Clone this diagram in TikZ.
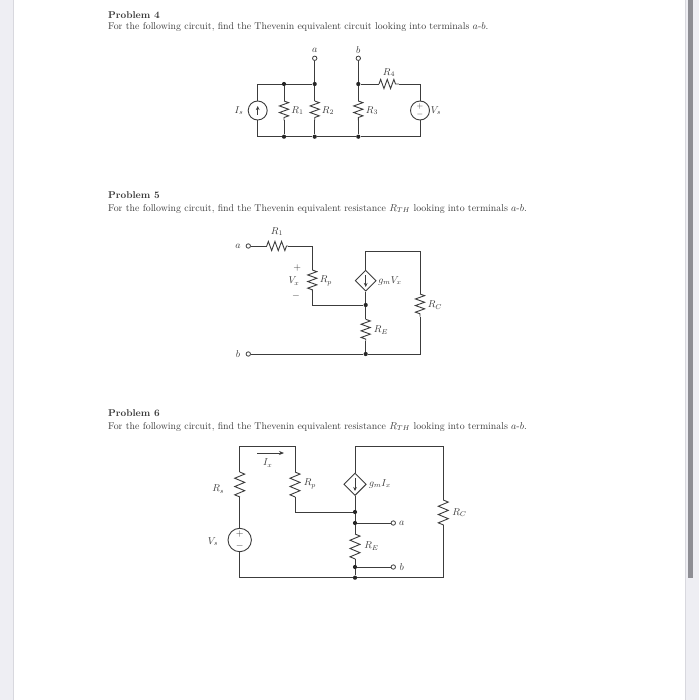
\documentclass[tikz,border=0pt]{standalone}
\usetikzlibrary{decorations.pathmorphing,arrows.meta,shapes.geometric}
\definecolor{ink}{HTML}{3C3C3C}
\definecolor{txt}{HTML}{3A3A3A}
\definecolor{track}{HTML}{EEEEF3}
\definecolor{edge}{HTML}{D8D8DE}
\definecolor{thumb}{HTML}{8E8E94}
\tikzset{
 x=1bp,y=-1bp,
 wire/.style={draw=ink,line width=.9pt},
 rv/.style={wire,decorate,decoration={zigzag,segment length=6.6bp,amplitude=4.6bp}},
 junc/.style={circle,fill=black!85,inner sep=0pt,minimum size=4.2bp},
 term/.style={circle,draw=ink,line width=.8pt,fill=white,inner sep=0pt,minimum size=4.4bp},
 src/.style={circle,draw=ink,line width=.9pt,inner sep=0pt},
 dep/.style={diamond,draw=ink,line width=.9pt,inner sep=0pt,minimum size=21bp,aspect=1},
 lab/.style={text=txt,font=\fontsize{9.9}{10}\selectfont,inner sep=0pt},
 head/.style={anchor=west,text=txt,font=\fontsize{9.9}{10}\selectfont\bfseries,inner sep=0pt},
 para/.style={anchor=west,text=txt,font=\fontsize{9.88}{10}\selectfont,inner sep=0pt},
}
\begin{document}
\begin{tikzpicture}
\useasboundingbox (0,0) rectangle (699,700);
% page frame
\fill[white] (0,0) rectangle (699,700);
\fill[track] (0,0) rectangle (13,700);
\fill[edge] (12.5,0) rectangle (14,700);
\fill[track] (685,0) rectangle (699,700);
\fill[edge] (685,0) rectangle (686,700);
\fill[thumb] (688,0) rectangle (693.4,578);
% ---------- Problem 4
\node[head] at (108,15.5) {Problem 4};
\node[para] at (108,27.2) {For the following circuit, find the Thevenin equivalent circuit looking into terminals $a$-$b$.};
\coordinate (tl) at (257.7,84); \coordinate (bl) at (257.7,136.7);
\coordinate (tr) at (420,84); \coordinate (br) at (420,136.7);
\node[src,minimum size=19bp] (Is) at (257.7,110.5) {};
\node[src,minimum size=19bp] (Vs) at (420,110.5) {};
\node[junc] (t1) at (284,84) {}; \node[junc] (b1) at (284,136.7) {};
\node[junc] (t2) at (314.7,84) {}; \node[junc] (b2) at (314.7,136.7) {};
\node[junc] (t3) at (358.3,84) {}; \node[junc] (b3) at (358.3,136.7) {};
\node[term] (a4) at (314.7,58.3) {}; \node[term] (b4) at (358.3,58.3) {};
\coordinate (r1t) at (284,101); \coordinate (r1b) at (284,120.5);
\coordinate (r2t) at (314.7,101); \coordinate (r2b) at (314.7,120.5);
\coordinate (r3t) at (358.3,101); \coordinate (r3b) at (358.3,120.5);
\coordinate (r4l) at (379,84); \coordinate (r4r) at (398.8,84);
\draw[wire] (Is) -- (tl) -- (t1) -- (t2) -- (a4);
\draw[wire] (Is) -- (bl) -- (b1) -- (b2) -- (b3) -- (br) -- (Vs);
\draw[wire] (Vs) -- (tr) -- (r4r); \draw[wire] (r4l) -- (t3) -- (b4);
\draw[rv] (r4l) -- (r4r);
\draw[wire] (t1) -- (r1t); \draw[rv] (r1t) -- (r1b); \draw[wire] (r1b) -- (b1);
\draw[wire] (t2) -- (r2t); \draw[rv] (r2t) -- (r2b); \draw[wire] (r2b) -- (b2);
\draw[wire] (t3) -- (r3t); \draw[rv] (r3t) -- (r3b); \draw[wire] (r3b) -- (b3);
\draw[-{Stealth[length=4bp,width=3.6bp]},wire] (257.7,115) -- (257.7,106);
\node[lab] at (420,106.2) {\fontsize{8}{8}\selectfont$+$};
\node[lab] at (420,114.8) {\fontsize{8}{8}\selectfont$-$};
\node[lab] at (239,110.5) {$I_s$};
\node[lab] at (297.5,110.5) {$R_1$};
\node[lab] at (328,110.5) {$R_2$};
\node[lab] at (372,110.5) {$R_3$};
\node[lab] at (389,72.5) {$R_4$};
\node[lab] at (436,110.5) {$V_s$};
\node[lab] at (314.7,50) {$a$};
\node[lab] at (358.3,50) {$b$};
% ---------- Problem 5
\node[head] at (108,195.5) {Problem 5};
\node[para] at (108,208.7) {For the following circuit, find the Thevenin equivalent resistance $R_{TH}$ looking into terminals $a$-$b$.};
\node[term] (a5) at (248.3,246) {}; \node[term] (b5) at (248.3,354) {};
\coordinate (c1) at (312.3,246); \coordinate (c2) at (312.3,305);
\coordinate (c3) at (365.7,251.3); \coordinate (c4) at (420,251.3); \coordinate (c5) at (420,354);
\node[junc] (n5) at (365.7,305) {}; \node[junc] (m5) at (365.7,354) {};
\node[dep] (d5) at (365.7,280.7) {};
\coordinate (r5l) at (266.7,246); \coordinate (r5r) at (288,246);
\coordinate (p5t) at (312.3,270); \coordinate (p5b) at (312.3,291.4);
\coordinate (e5t) at (365.7,319.3); \coordinate (e5b) at (365.7,340.7);
\coordinate (k5t) at (420,294); \coordinate (k5b) at (420,316.5);
\draw[wire] (a5) -- (r5l); \draw[rv] (r5l) -- (r5r); \draw[wire] (r5r) -- (c1) -- (p5t);
\draw[rv] (p5t) -- (p5b); \draw[wire] (p5b) -- (c2) -- (n5);
\draw[wire] (n5) -- (d5); \draw[wire] (d5) -- (c3) -- (c4) -- (k5t);
\draw[rv] (k5t) -- (k5b); \draw[wire] (k5b) -- (c5) -- (m5) -- (b5);
\draw[wire] (n5) -- (e5t); \draw[rv] (e5t) -- (e5b); \draw[wire] (e5b) -- (m5);
\draw[-{Stealth[length=4bp,width=3.6bp]},wire] (365.7,275) -- (365.7,287);
\node[lab] at (277,231.5) {$R_1$};
\node[lab] at (238,246) {$a$};
\node[lab] at (238,354) {$b$};
\node[lab] at (297.3,268.3) {$+$};
\node[lab] at (294,281.3) {$V_x$};
\node[lab] at (296,296.3) {$-$};
\node[lab] at (326,281) {$R_p$};
\node[lab] at (390,281) {$g_mV_x$};
\node[lab] at (435,305) {$R_C$};
\node[lab] at (381,330) {$R_E$};
% ---------- Problem 6
\node[head] at (108,413.5) {Problem 6};
\node[para] at (108,426.7) {For the following circuit, find the Thevenin equivalent resistance $R_{TH}$ looking into terminals $a$-$b$.};
\coordinate (g1) at (239.7,446); \coordinate (g2) at (295,446); \coordinate (g3) at (295,512);
\coordinate (g4) at (355,446); \coordinate (g5) at (443.3,446); \coordinate (g6) at (443.3,577.7); \coordinate (g7) at (239.7,577.7);
\node[src,minimum size=23.4bp] (V6) at (239.7,540) {};
\node[dep,minimum size=22.5bp] (d6) at (355,484.3) {};
\node[junc] (n6) at (355,512) {}; \node[junc] (na) at (355,523) {};
\node[junc] (nb) at (355,567) {}; \node[junc] (nc) at (355,577.7) {};
\node[term] (ta) at (393.3,523) {}; \node[term] (tb) at (393.3,567) {};
\coordinate (s6t) at (239.7,472); \coordinate (s6b) at (239.7,497);
\coordinate (p6t) at (295,472); \coordinate (p6b) at (295,497);
\coordinate (e6t) at (355,534); \coordinate (e6b) at (355,559);
\coordinate (k6t) at (443.3,500); \coordinate (k6b) at (443.3,525);
\tikzset{rw/.style={rv,decoration={zigzag,segment length=8.3bp,amplitude=5bp}}}
\draw[wire] (V6) -- (s6b); \draw[rw] (s6t) -- (s6b); \draw[wire] (s6t) -- (g1) -- (g2) -- (p6t);
\draw[rw] (p6t) -- (p6b); \draw[wire] (p6b) -- (g3) -- (n6);
\draw[wire] (d6) -- (n6) -- (na) -- (e6t); \draw[rw] (e6t) -- (e6b); \draw[wire] (e6b) -- (nb) -- (nc);
\draw[wire] (d6) -- (g4) -- (g5) -- (k6t); \draw[rw] (k6t) -- (k6b); \draw[wire] (k6b) -- (g6) -- (nc) -- (g7) -- (V6);
\draw[wire] (na) -- (ta); \draw[wire] (nb) -- (tb);
\draw[-{Stealth[length=5bp,width=4bp]},wire] (257.3,453) -- (284,453);
\draw[-{Stealth[length=4bp,width=3.6bp]},wire] (355,478) -- (355,491);
\node[lab] at (239.7,534.5) {$+$};
\node[lab] at (239.7,546) {$-$};
\node[lab] at (267.7,463) {$I_x$};
\node[lab] at (218.3,489) {$R_s$};
\node[lab] at (213,541.7) {$V_s$};
\node[lab] at (310,484) {$R_p$};
\node[lab] at (380,484) {$g_mI_x$};
\node[lab] at (459.5,512.7) {$R_C$};
\node[lab] at (371.5,546) {$R_E$};
\node[lab] at (401.7,523) {$a$};
\node[lab] at (401.7,567) {$b$};
\end{tikzpicture}
\end{document}
